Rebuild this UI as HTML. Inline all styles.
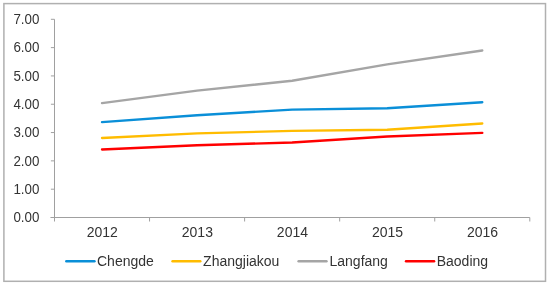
<!DOCTYPE html><html><head><meta charset="utf-8"><style>html,body{margin:0;padding:0;background:#fff;width:550px;height:286px;overflow:hidden}svg{display:block}text{font-family:"Liberation Sans",Arial,sans-serif;font-size:14px;fill:#333333}</style></head><body>
<svg width="550" height="286" viewBox="0 0 550 286">
<rect x="0" y="0" width="550" height="286" fill="#fff"/>
<rect x="3.9" y="3.6" width="541.6" height="277.7" fill="none" stroke="#B0B0B0" stroke-width="1.5"/>
<path d="M54.50 19.30V217.50" stroke="#A0A0A0" stroke-width="1" fill="none"/>
<path d="M50.50 217.50H529.80" stroke="#A0A0A0" stroke-width="1" fill="none"/>
<path d="M50.90 217.50H54.50" stroke="#A0A0A0" stroke-width="1"/>
<text x="39.40" y="222.30" text-anchor="end" textLength="26.00" lengthAdjust="spacingAndGlyphs">0.00</text>
<path d="M50.90 189.19H54.50" stroke="#A0A0A0" stroke-width="1"/>
<text x="39.40" y="193.99" text-anchor="end" textLength="26.00" lengthAdjust="spacingAndGlyphs">1.00</text>
<path d="M50.90 160.87H54.50" stroke="#A0A0A0" stroke-width="1"/>
<text x="39.40" y="165.67" text-anchor="end" textLength="26.00" lengthAdjust="spacingAndGlyphs">2.00</text>
<path d="M50.90 132.56H54.50" stroke="#A0A0A0" stroke-width="1"/>
<text x="39.40" y="137.36" text-anchor="end" textLength="26.00" lengthAdjust="spacingAndGlyphs">3.00</text>
<path d="M50.90 104.24H54.50" stroke="#A0A0A0" stroke-width="1"/>
<text x="39.40" y="109.04" text-anchor="end" textLength="26.00" lengthAdjust="spacingAndGlyphs">4.00</text>
<path d="M50.90 75.93H54.50" stroke="#A0A0A0" stroke-width="1"/>
<text x="39.40" y="80.73" text-anchor="end" textLength="26.00" lengthAdjust="spacingAndGlyphs">5.00</text>
<path d="M50.90 47.61H54.50" stroke="#A0A0A0" stroke-width="1"/>
<text x="39.40" y="52.41" text-anchor="end" textLength="26.00" lengthAdjust="spacingAndGlyphs">6.00</text>
<path d="M50.90 19.30H54.50" stroke="#A0A0A0" stroke-width="1"/>
<text x="39.40" y="24.10" text-anchor="end" textLength="26.00" lengthAdjust="spacingAndGlyphs">7.00</text>
<path d="M54.50 217.50V221.50" stroke="#A0A0A0" stroke-width="1"/>
<path d="M149.56 217.50V221.50" stroke="#A0A0A0" stroke-width="1"/>
<path d="M244.62 217.50V221.50" stroke="#A0A0A0" stroke-width="1"/>
<path d="M339.68 217.50V221.50" stroke="#A0A0A0" stroke-width="1"/>
<path d="M434.74 217.50V221.50" stroke="#A0A0A0" stroke-width="1"/>
<path d="M529.80 217.50V221.50" stroke="#A0A0A0" stroke-width="1"/>
<text x="102.33" y="237" text-anchor="middle">2012</text>
<text x="197.39" y="237" text-anchor="middle">2013</text>
<text x="292.45" y="237" text-anchor="middle">2014</text>
<text x="387.51" y="237" text-anchor="middle">2015</text>
<text x="482.57" y="237" text-anchor="middle">2016</text>
<polyline points="102.03,122.08 197.09,115.29 292.15,109.62 387.21,108.21 482.27,102.26" fill="none" stroke="#0A8FD8" stroke-width="2.4" stroke-linecap="round" stroke-linejoin="round"/>
<polyline points="102.03,137.94 197.09,133.41 292.15,130.86 387.21,129.73 482.27,123.50" fill="none" stroke="#FFBC00" stroke-width="2.4" stroke-linecap="round" stroke-linejoin="round"/>
<polyline points="102.03,103.11 197.09,90.65 292.15,80.74 387.21,64.32 482.27,50.45" fill="none" stroke="#A5A5A5" stroke-width="2.4" stroke-linecap="round" stroke-linejoin="round"/>
<polyline points="102.03,149.55 197.09,145.30 292.15,142.47 387.21,136.52 482.27,132.84" fill="none" stroke="#FF0000" stroke-width="2.4" stroke-linecap="round" stroke-linejoin="round"/>
<path d="M66.30 261.2H94.50" stroke="#0A8FD8" stroke-width="2.4" stroke-linecap="round"/>
<text x="97.00" y="266">Chengde</text>
<path d="M172.50 261.2H200.30" stroke="#FFBC00" stroke-width="2.4" stroke-linecap="round"/>
<text x="203.10" y="266">Zhangjiakou</text>
<path d="M298.60 261.2H326.50" stroke="#A5A5A5" stroke-width="2.4" stroke-linecap="round"/>
<text x="329.50" y="266">Langfang</text>
<path d="M406.00 261.2H434.10" stroke="#FF0000" stroke-width="2.4" stroke-linecap="round"/>
<text x="436.70" y="266">Baoding</text>
</svg></body></html>
